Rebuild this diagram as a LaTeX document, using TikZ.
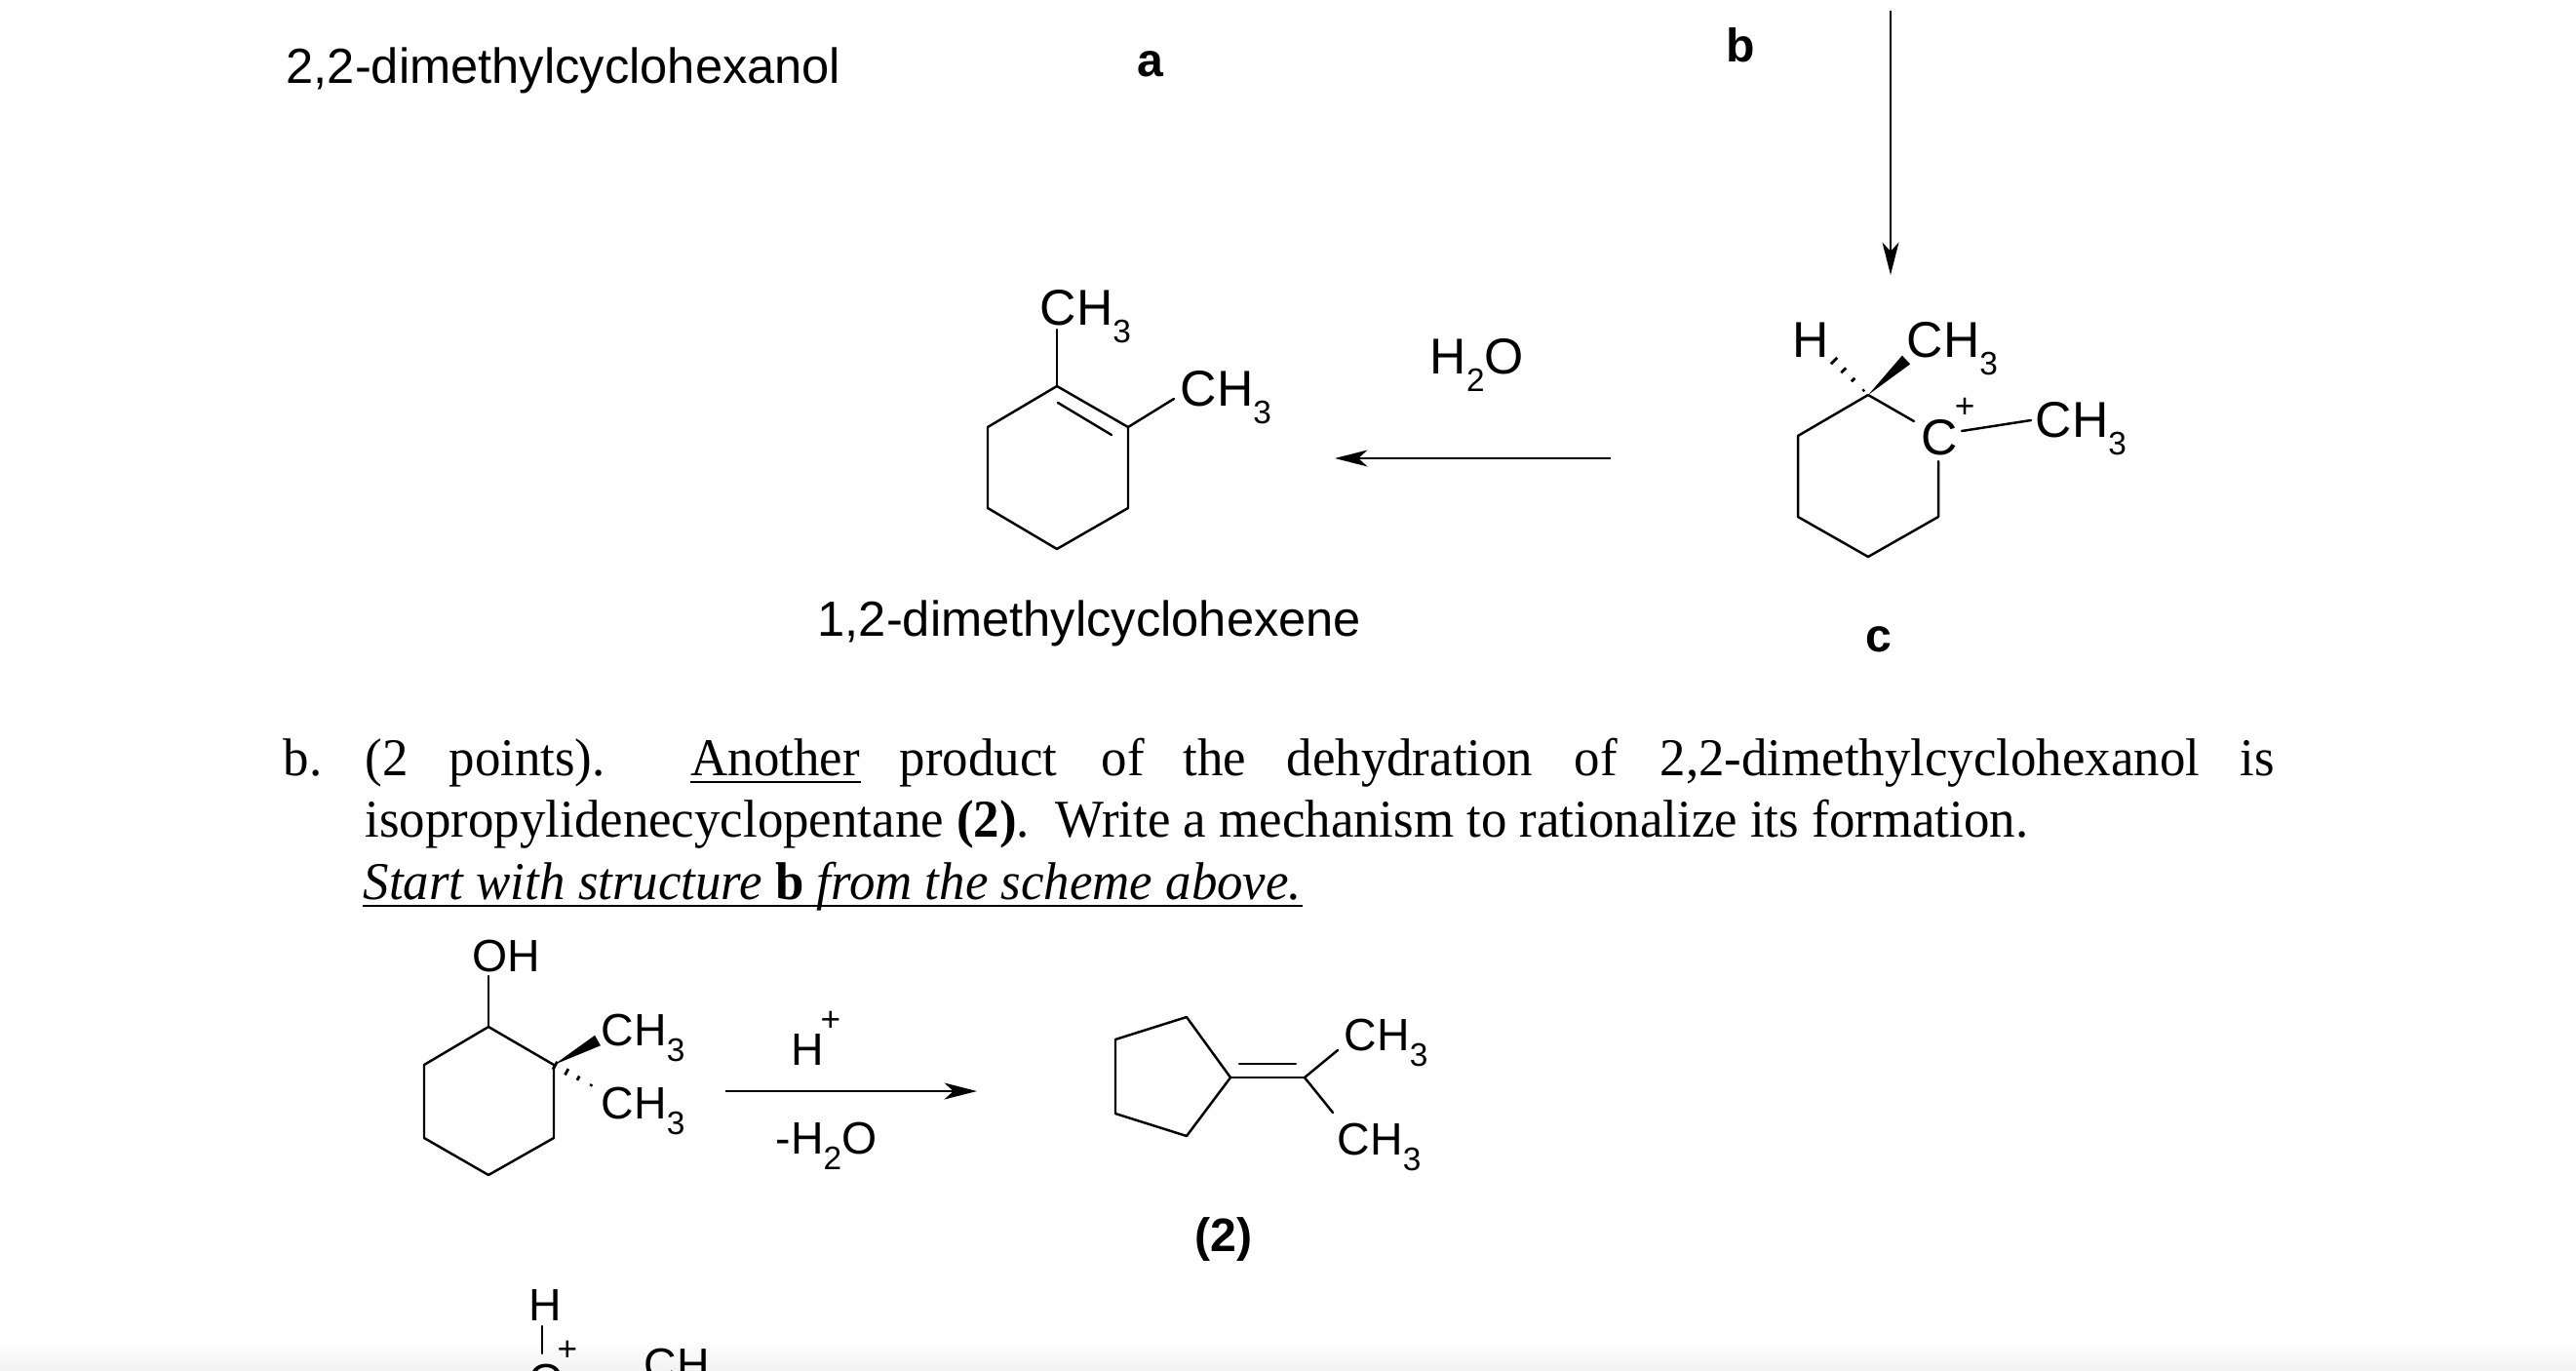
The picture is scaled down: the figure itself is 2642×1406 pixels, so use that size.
\documentclass[tikz,border=0pt]{standalone}
\usepackage{fontspec}
\setmainfont[FakeStretch=0.97]{Liberation Serif}
\setsansfont{Liberation Sans}
\usetikzlibrary{calc,arrows.meta}
\tikzset{
  chem/.style={inner sep=0pt,anchor=base west,font=\sffamily\fontsize{14.7}{15}\selectfont},
  chemsm/.style={inner sep=0pt,anchor=base west,font=\sffamily\fontsize{13.2}{14}\selectfont},
  charge/.style={inner sep=0pt,anchor=center,font=\sffamily\fontsize{10}{10}\selectfont},
  molname/.style={inner sep=0pt,anchor=base west,font=\sffamily\fontsize{14.4}{15}\selectfont},
  tag/.style={inner sep=0pt,anchor=base,font=\sffamily\bfseries\fontsize{13.7}{14}\selectfont},
  word/.style={inner sep=0pt,anchor=base west,font=\fontsize{15.5}{16}\selectfont},
  bond/.style={line width=0.7pt,line cap=round,line join=round},
  rxn/.style={line width=0.7pt,-{Stealth[length=9.5pt,width=4.8pt,inset=2.6pt]}},
  uline/.style={line width=0.8pt}
}
\newcommand{\sub}[1]{\raisebox{-0.36em}{\fontsize{9.5}{10}\selectfont #1}}
\newcommand{\methyl}{CH\sub{3}}
% wedge and hashed bonds between two named points
\newcommand{\wedgebond}[3]{\fill (#1) -- ($(#2)!#3!90:(#1)$) -- ($(#2)!#3!-90:(#1)$) -- cycle;}
\newcommand{\hashbond}[2]{
  \foreach \t/\w in {0.13/0.34pt,0.43/0.7pt,0.7/1pt,0.97/1.3pt}{
    \coordinate (hp) at ($(#1)!\t!(#2)$);
    \draw[line width=0.8pt] ($(hp)!\w!90:(#2)$) -- ($(hp)!\w!-90:(#2)$);
  }
}
\begin{document}
\begin{tikzpicture}[x=0.01cm,y=-0.01cm]
  \useasboundingbox (0,0) rectangle (2642,1406);
  \clip (0,0) rectangle (2642,1406);
  \fill[white] (0,0) rectangle (2642,1373);
  \shade[top color=white,bottom color=black!5] (0,1373) rectangle (2642,1406);

  % top line
  \node[molname] (title) at (293,85) {2,2-dimethylcyclohexanol};
  \node[tag] (a) at (1180,78) {a};
  \node[tag] (b) at (1785,63) {b};
  \coordinate (in1) at (1939,11);
  \coordinate (in2) at (1939,282);
  \draw[rxn] (in1) -- (in2);

  % dimethylcyclohexene
  \coordinate (a1) at (1084,396);
  \coordinate (a2) at (1157,438);
  \coordinate (a3) at (1157,521);
  \coordinate (a4) at (1084,563);
  \coordinate (a5) at (1013,521);
  \coordinate (a6) at (1013,438);
  \coordinate (a1i) at (1085,413);
  \coordinate (a2i) at (1140,446);
  \coordinate (am1) at (1084,338);
  \coordinate (am2) at (1204,409);
  \draw[bond] (a1) -- (a2) -- (a3) -- (a4) -- (a5) -- (a6) -- cycle;
  \draw[bond] (a1i) -- (a2i);
  \draw[bond] (a1) -- (am1);
  \draw[bond] (a2) -- (am2);
  \node[chem] (ch3a) at (1066,333) {\methyl};
  \node[chem] (ch3b) at (1210,416) {\methyl};
  \node[molname] (prod) at (838,652) {1,2-dimethylcyclohexene};

  % water loss
  \coordinate (w1) at (1652,470);
  \coordinate (w2) at (1369,470);
  \draw[rxn] (w1) -- (w2);
  \node[chem] (water) at (1466,383) {H\sub{2}O};

  % cation c
  \coordinate (c1) at (1916,405);
  \coordinate (c2) at (1963,432);
  \coordinate (c3) at (1988,473);
  \coordinate (c4) at (1988,530);
  \coordinate (c5) at (1916,571);
  \coordinate (c6) at (1844,530);
  \coordinate (c7) at (1844,447);
  \coordinate (cw) at (1955,369);
  \coordinate (ch) at (1880,369);
  \coordinate (cm1) at (2012,442);
  \coordinate (cm2) at (2083,431);
  \draw[bond] (c2) -- (c1) -- (c7) -- (c6) -- (c5) -- (c4) -- (c3);
  \draw[bond] (cm1) -- (cm2);
  \wedgebond{c1}{cw}{6*0.2845pt}
  \hashbond{c1}{ch}
  \node[chem] (hc) at (1838,366) {H};
  \node[chem] (ch3c) at (1955,366) {\methyl};
  \node[chem] (cplus) at (1970,466) {C};
  \node[charge] (pc) at (2015,418) {+};
  \node[chem] (ch3d) at (2087,448) {\methyl};
  \node[tag] (c) at (1927,668) {c};

  % question text
  \node[word] (bq) at (290,795) {b.};
  \node[word] (w1a) at (374,795) {(2};
  \node[word] (w1b) at (460,795) {points).};
  \node[word] (another) at (708,795) {Another};
  \node[word] (w1d) at (922,795) {product};
  \node[word] (w1e) at (1129,795) {of};
  \node[word] (w1f) at (1213,795) {the};
  \node[word] (w1g) at (1319,795) {dehydration};
  \node[word] (w1h) at (1614,795) {of};
  \node[word] (w1i) at (1702,795) {2,2-dimethylcyclohexanol};
  \node[word] (w1j) at (2297,795) {is};
  \node[word] (line2) at (374,858) {isopropylidenecyclopentane \textbf{(2)}.\ \ Write a mechanism to rationalize its formation.};
  \node[word] (line3) at (372,922) {\textit{Start with structure} \textbf{b} \textit{from the scheme above.}};
  \draw[uline] ([yshift=-2pt]another.base west) -- ([yshift=-2pt]another.base east);
  \draw[uline] ([yshift=-2pt]line3.base west) -- ([yshift=-2pt]line3.base east);

  % starting alcohol
  \coordinate (s1) at (501,1053);
  \coordinate (s2) at (568,1092);
  \coordinate (s3) at (568,1167);
  \coordinate (s4) at (501,1205);
  \coordinate (s5) at (435,1167);
  \coordinate (s6) at (435,1092);
  \coordinate (so) at (501,1001);
  \coordinate (sw) at (613,1067);
  \coordinate (sh) at (612,1116);
  \draw[bond] (s1) -- (s2) -- (s3) -- (s4) -- (s5) -- (s6) -- cycle;
  \draw[bond] (s1) -- (so);
  \wedgebond{s2}{sw}{6*0.2845pt}
  \hashbond{sh}{s2}
  \node[chemsm] (oh) at (484,996) {OH};
  \node[chemsm] (ch3e) at (616,1072) {\methyl};
  \node[chemsm] (ch3f) at (616,1147) {\methyl};

  % mechanism arrow
  \coordinate (r1) at (744,1119);
  \coordinate (r2) at (1002,1119);
  \draw[rxn] (r1) -- (r2);
  \node[chemsm] (hplus) at (811,1092) {H};
  \node[charge] (pl) at (852,1047) {+};
  \node[chemsm] (loss) at (795,1183) {-H\sub{2}O};

  % product (2)
  \coordinate (p1) at (1262,1105);
  \coordinate (p2) at (1217,1043);
  \coordinate (p3) at (1144,1066);
  \coordinate (p4) at (1144,1142);
  \coordinate (p5) at (1217,1165);
  \coordinate (p6) at (1338,1105);
  \coordinate (p1i) at (1271,1091);
  \coordinate (p6i) at (1329,1091);
  \coordinate (pm1) at (1372,1077);
  \coordinate (pm2) at (1367,1141);
  \draw[bond] (p1) -- (p2) -- (p3) -- (p4) -- (p5) -- cycle;
  \draw[bond] (p1) -- (p6);
  \draw[bond] (p1i) -- (p6i);
  \draw[bond] (p6) -- (pm1);
  \draw[bond] (p6) -- (pm2);
  \node[chemsm] (ch3g) at (1378,1077) {\methyl};
  \node[chemsm] (ch3h) at (1371,1184) {\methyl};
  \node[tag] (two) at (1255,1283) {(2)};

  % cut off at the page edge
  \coordinate (o1) at (556,1360);
  \coordinate (o2) at (556,1388);
  \draw[bond] (o1) -- (o2);
  \node[chemsm] (hb) at (542,1354) {H};
  \node[charge] (po) at (582,1385) {+};
  \node[chemsm] (ob) at (542,1431) {O};
  \node[chemsm] (cb) at (660,1415) {CH};
\end{tikzpicture}
\end{document}
